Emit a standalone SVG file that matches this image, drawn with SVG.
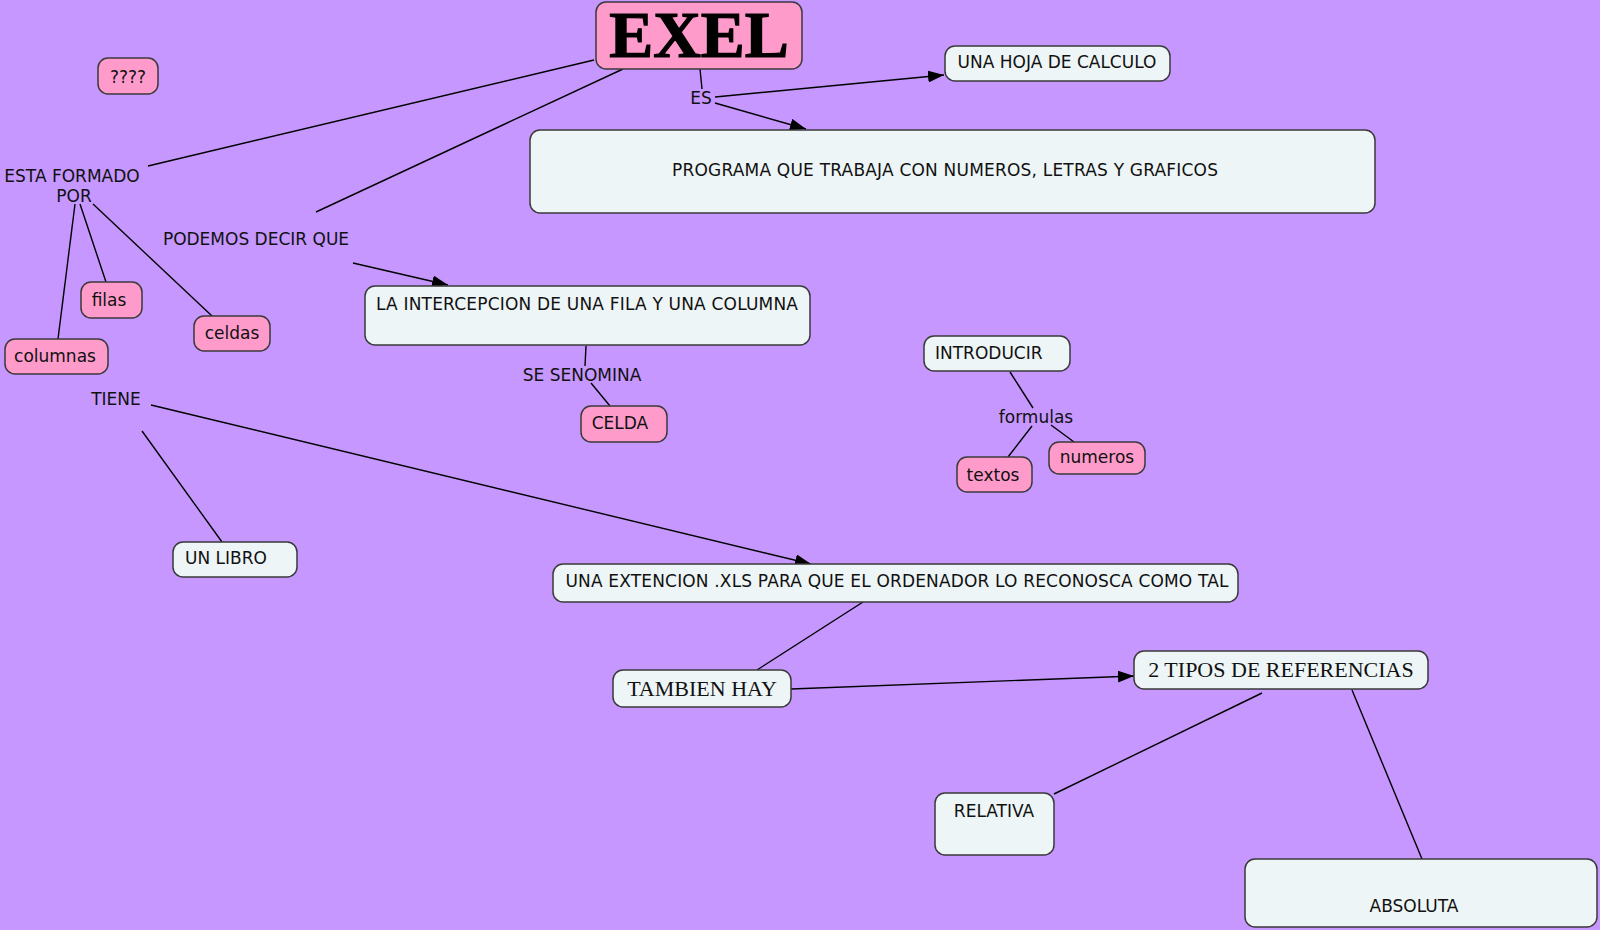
<svg xmlns="http://www.w3.org/2000/svg" width="1600" height="930" viewBox="0 0 1600 930">
<defs>
<style>
.pink{fill:#FF9BCB;stroke:#3a3a3a;stroke-width:1.5}
.light{fill:#EEF5F6;stroke:#3a3a3a;stroke-width:1.5}
.t{font-family:"DejaVu Sans",Verdana,sans-serif;font-size:17px;fill:#111}
.m{text-anchor:middle}
.s{font-family:"Liberation Serif","Times New Roman",serif;font-size:22px;fill:#111;text-anchor:middle}
.c{stroke:#000;stroke-width:1.4;fill:none}
.a{marker-end:url(#arr)}
</style>
<marker id="arr" markerUnits="userSpaceOnUse" markerWidth="16" markerHeight="12" refX="16" refY="6" orient="auto">
<path d="M0,0 L16,6 L0,12 z" fill="#000"/>
</marker>
</defs>
<rect x="0" y="0" width="1600" height="930" fill="#C697FE"/>

<g id="connectors">
<line class="c" x1="594" y1="60" x2="148" y2="166"/>
<line class="c" x1="623" y1="69" x2="316" y2="212"/>
<line class="c a" x1="353" y1="263" x2="448" y2="285"/>
<line class="c" x1="75" y1="204" x2="58" y2="339"/>
<line class="c" x1="80" y1="204" x2="106" y2="282"/>
<line class="c" x1="93" y1="204" x2="212" y2="316"/>
<line class="c" x1="700" y1="69" x2="702" y2="89"/>
<line class="c a" x1="715" y1="97" x2="944" y2="75"/>
<line class="c a" x1="715" y1="103" x2="806" y2="129"/>
<line class="c" x1="586" y1="346" x2="585" y2="366"/>
<line class="c" x1="591" y1="383" x2="610" y2="406"/>
<line class="c" x1="1010" y1="372" x2="1033" y2="408"/>
<line class="c" x1="1032" y1="426" x2="1008" y2="457"/>
<line class="c" x1="1051" y1="425" x2="1074" y2="442"/>
<line class="c" x1="142" y1="431" x2="222" y2="542"/>
<line class="c a" x1="151" y1="405" x2="811" y2="564"/>
<line class="c" x1="863" y1="602" x2="757" y2="670"/>
<line class="c a" x1="791" y1="689" x2="1134" y2="676"/>
<line class="c" x1="1262" y1="693" x2="1054" y2="794"/>
<line class="c" x1="1352" y1="690" x2="1422" y2="859"/>
</g>

<g id="l-esta"><text class="t m" x="72" y="182">ESTA FORMADO</text><text class="t m" x="74" y="202">POR</text></g>
<g id="l-podemos"><text class="t m" x="256" y="245">PODEMOS DECIR QUE</text></g>
<g id="l-es"><text class="t m" x="701" y="104">ES</text></g>
<g id="l-se"><text class="t m" x="582" y="381">SE SENOMINA</text></g>
<g id="l-tiene"><text class="t m" x="116" y="405">TIENE</text></g>
<g id="l-formulas"><text class="t m" x="1036" y="423">formulas</text></g>

<g id="n-exel"><rect class="pink" x="596" y="2" width="206" height="67" rx="10"/><text x="699" y="57" text-anchor="middle" font-family="Liberation Serif,serif" font-weight="bold" font-size="66" fill="#000" stroke="#000" stroke-width="1.2">EXEL</text></g>
<g id="n-q"><rect class="pink" x="98" y="58" width="60" height="36" rx="10"/><text class="t m" x="128" y="83">????</text></g>
<g id="n-hoja"><rect class="light" x="945" y="46" width="225" height="35" rx="10"/><text class="t m" x="1057" y="68">UNA HOJA DE CALCULO</text></g>
<g id="n-programa"><rect class="light" x="530" y="130" width="845" height="83" rx="10"/><text class="t m" x="945" y="176" textLength="546" lengthAdjust="spacing">PROGRAMA QUE TRABAJA CON NUMEROS, LETRAS Y GRAFICOS</text></g>
<g id="n-intercepcion"><rect class="light" x="365" y="286" width="445" height="59" rx="10"/><text class="t m" x="587" y="310" textLength="422" lengthAdjust="spacing">LA INTERCEPCION DE UNA FILA Y UNA COLUMNA</text></g>
<g id="n-celda"><rect class="pink" x="581" y="406" width="86" height="36" rx="10"/><text class="t m" x="620" y="429">CELDA</text></g>
<g id="n-filas"><rect class="pink" x="81" y="282" width="61" height="36" rx="10"/><text class="t m" x="109" y="306">filas</text></g>
<g id="n-celdas"><rect class="pink" x="194" y="316" width="76" height="35" rx="10"/><text class="t m" x="232" y="339">celdas</text></g>
<g id="n-columnas"><rect class="pink" x="5" y="339" width="103" height="35" rx="10"/><text class="t m" x="55" y="362">columnas</text></g>
<g id="n-libro"><rect class="light" x="173" y="542" width="124" height="35" rx="10"/><text class="t" x="185" y="564">UN LIBRO</text></g>
<g id="n-introducir"><rect class="light" x="924" y="336" width="146" height="35" rx="10"/><text class="t" x="935" y="359">INTRODUCIR</text></g>
<g id="n-textos"><rect class="pink" x="957" y="457" width="75" height="35" rx="10"/><text class="t m" x="993" y="481">textos</text></g>
<g id="n-numeros"><rect class="pink" x="1049" y="442" width="96" height="32" rx="10"/><text class="t m" x="1097" y="463">numeros</text></g>
<g id="n-extencion"><rect class="light" x="553" y="564" width="685" height="38" rx="10"/><text class="t m" x="897" y="587" textLength="663" lengthAdjust="spacing">UNA EXTENCION .XLS PARA QUE EL ORDENADOR LO RECONOSCA COMO TAL</text></g>
<g id="n-tambien"><rect class="light" x="613" y="670" width="178" height="37" rx="10"/><text class="s" x="702" y="696">TAMBIEN HAY</text></g>
<g id="n-tipos"><rect class="light" x="1134" y="651" width="294" height="38" rx="10"/><text class="s" x="1281" y="677">2 TIPOS DE REFERENCIAS</text></g>
<g id="n-relativa"><rect class="light" x="935" y="793" width="119" height="62" rx="10"/><text class="t m" x="994" y="817">RELATIVA</text></g>
<g id="n-absoluta"><rect class="light" x="1245" y="859" width="352" height="68" rx="10"/><text class="t m" x="1414" y="912">ABSOLUTA</text></g>
</svg>
